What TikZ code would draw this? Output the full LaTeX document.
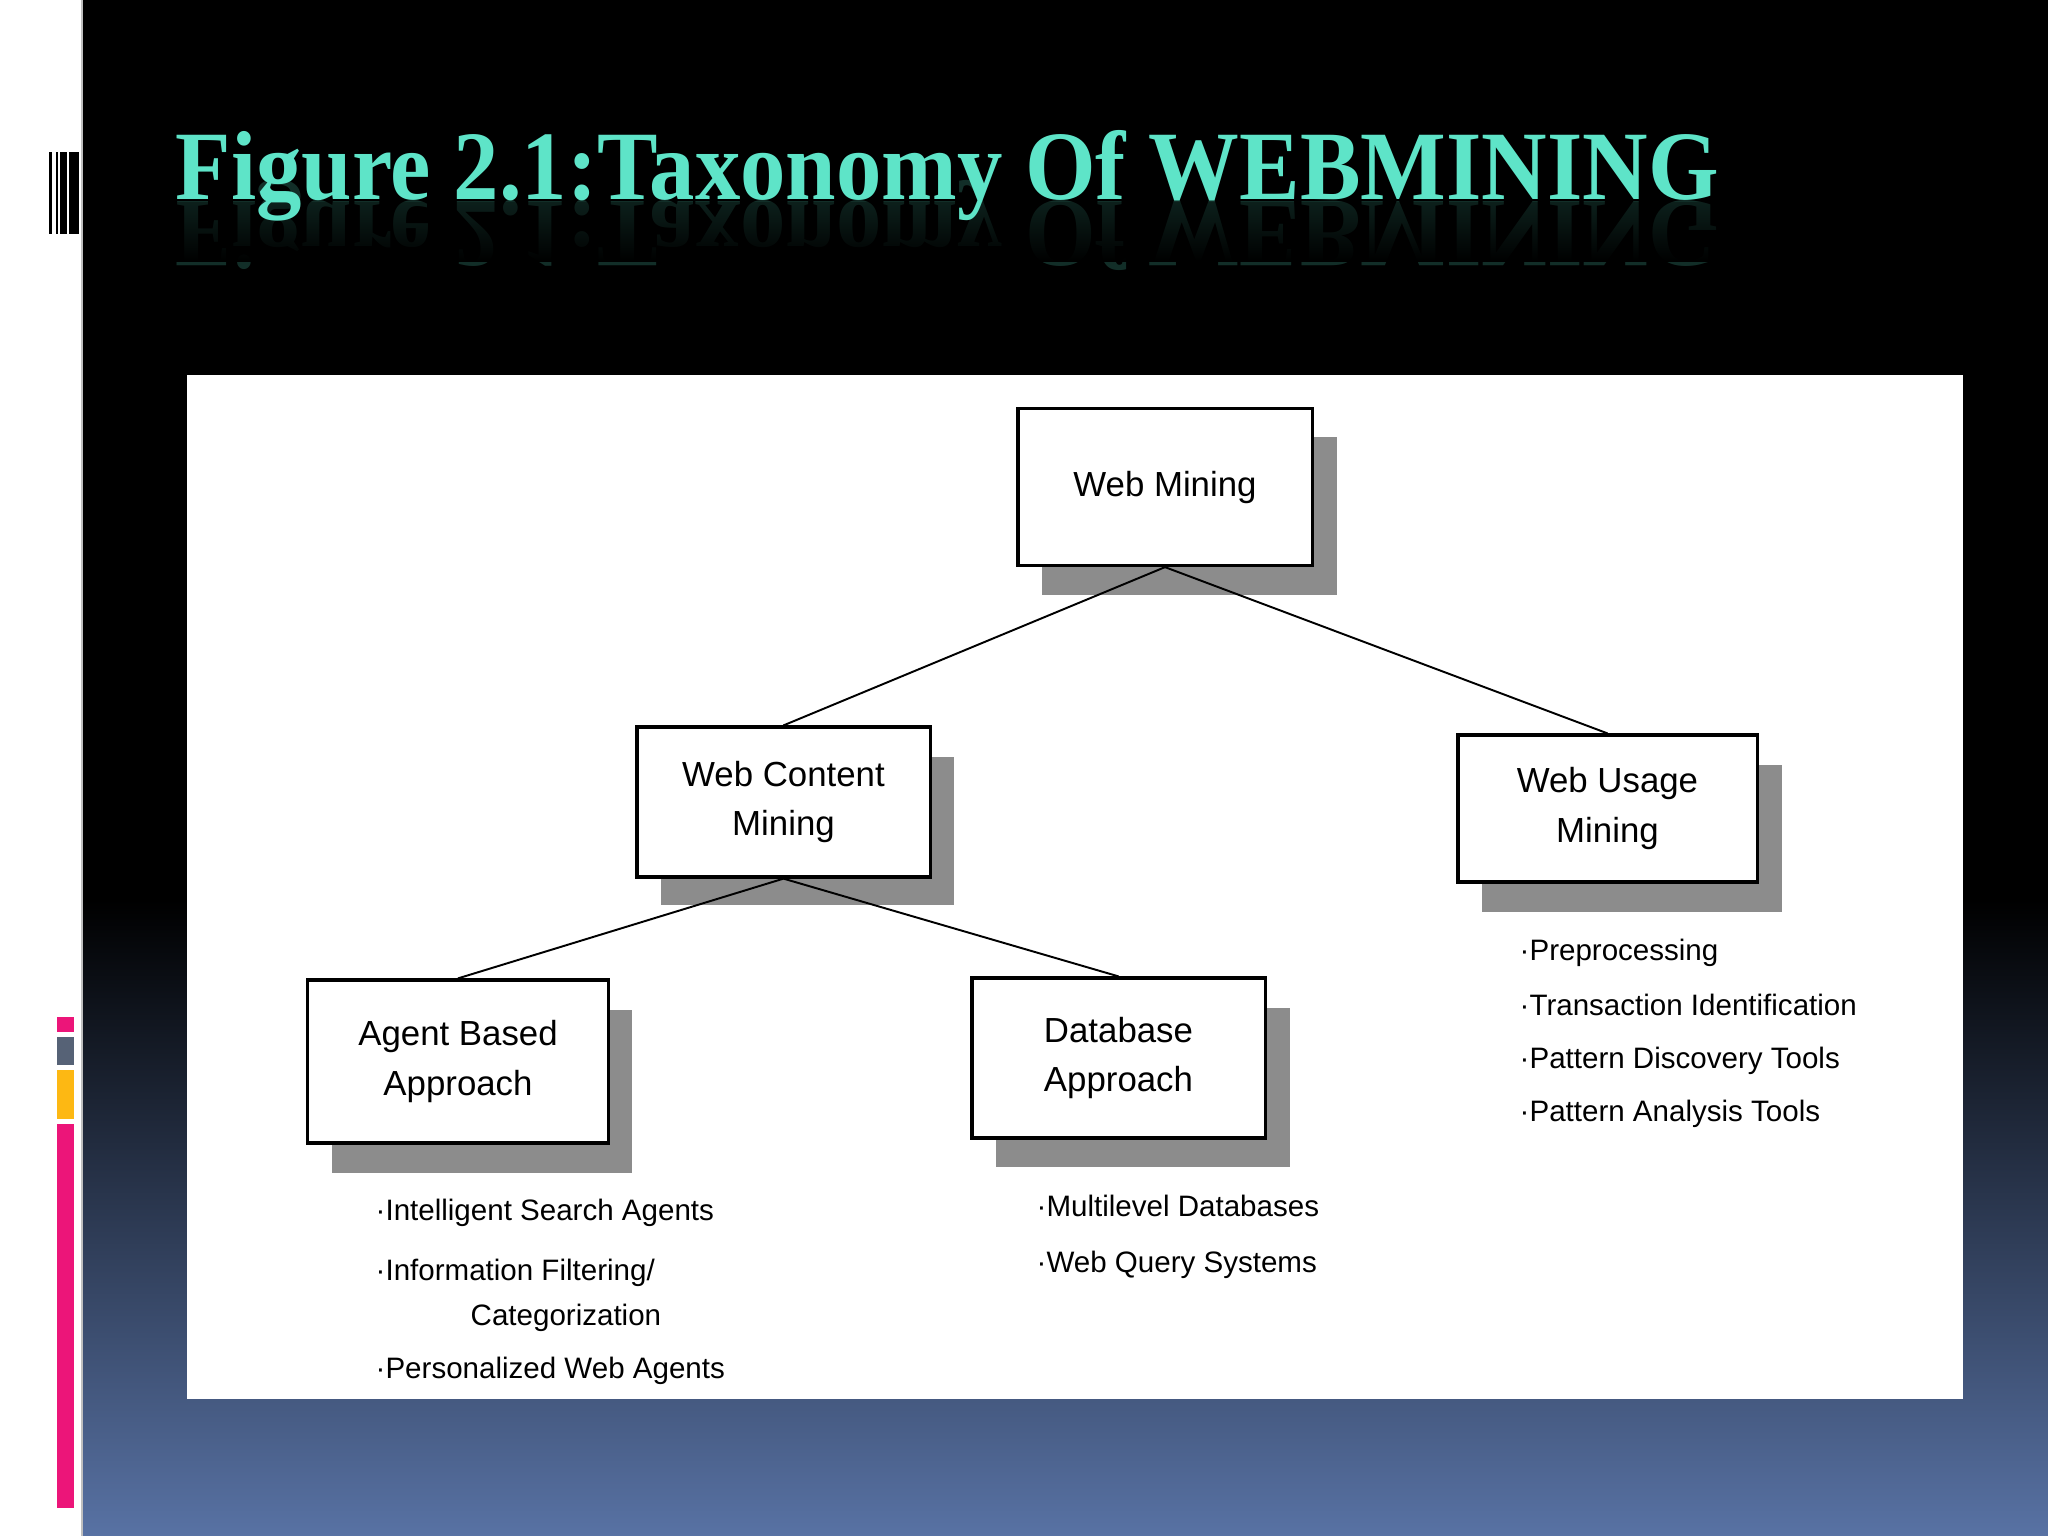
\documentclass[tikz,border=0pt]{standalone}
\usepackage{fontspec}
\setmainfont{Liberation Sans}
\newfontfamily\titlefont{Liberation Serif}
\usetikzlibrary{fadings}
\definecolor{titlecol}{RGB}{94,228,200}
\definecolor{bgbottom}{RGB}{88,114,164}
\definecolor{barpink}{RGB}{236,21,121}
\definecolor{bargray}{RGB}{86,98,118}
\definecolor{barorange}{RGB}{253,184,19}
\definecolor{shadowgray}{RGB}{140,140,140}
\tikzfading[name=fadedown, top color=transparent!70, bottom color=transparent!0]
\tikzset{
  box/.style={draw=black, line width=0.9pt, fill=white, inner sep=0pt,
    align=center, font=\fontsize{9.9pt}{14.2pt}\selectfont},
  link/.style={draw=black, line width=0.55pt},
  item/.style={anchor=base west, inner sep=0pt, font=\fontsize{8.4pt}{10pt}\selectfont},
}
\begin{document}
\begin{tikzpicture}[x=0.01cm, y=-0.01cm]
\useasboundingbox (0,0) rectangle (2048,1536);
% background
\fill[black] (82,0) rectangle (2048,1536);
\shade[top color=black, bottom color=bgbottom] (82,900) rectangle (2048,1536);
\fill[white] (0,0) rectangle (82,1536);
\draw[black!25, line width=0.4pt] (82,0) -- (82,1536);
% barcode
\fill[black] (49,152) rectangle (52,234);
\fill[black] (56,152) rectangle (58,234);
\fill[black] (60,152) rectangle (67,234);
\fill[black] (69,152) rectangle (79,234);
% colour bars
\fill[barpink] (57,1017) rectangle (74,1032);
\fill[bargray] (57,1037) rectangle (74,1065);
\fill[barorange] (57,1070) rectangle (74,1119);
\fill[barpink] (57,1124) rectangle (74,1508);
% title
\node[anchor=base west, inner sep=0pt, text=titlecol!45!black, opacity=0.45, yscale=-1, font=\titlefont\bfseries\fontsize{27.9pt}{30pt}\selectfont] (reflect) at (175,201) {\scalebox{0.925}[1]{Figure 2.1:Taxonomy Of WEBMINING}};
\fill[black, path fading=fadedown] (150,202) rectangle (1760,262);
\node[anchor=base west, inner sep=0pt, text=titlecol, font=\titlefont\bfseries\fontsize{27.9pt}{30pt}\selectfont] (title) at (175,199) {\scalebox{0.925}[1]{Figure 2.1:Taxonomy Of WEBMINING}};
% panel
\fill[white] (187,375) rectangle (1963,1399);
% shadows
\fill[shadowgray] (1042,437) rectangle (1337,595);
\fill[shadowgray] (661,757) rectangle (954,905);
\fill[shadowgray] (1482,765) rectangle (1782,912);
\fill[shadowgray] (332,1010) rectangle (632,1173);
\fill[shadowgray] (996,1008) rectangle (1290,1167);
% boxes
\node[box, minimum width=2.94cm, minimum height=1.57cm] (wm) at (1165,487) {Web Mining};
\node[box, minimum width=2.93cm, minimum height=1.50cm] (wcm) at (783.5,802) {Web Content\\Mining};
\node[box, minimum width=2.99cm, minimum height=1.47cm] (wum) at (1607.5,808.5) {Web Usage\\Mining};
\node[box, minimum width=3.00cm, minimum height=1.63cm] (ab) at (458,1061.5) {Agent Based\\Approach};
\node[box, minimum width=2.93cm, minimum height=1.60cm] (db) at (1118.5,1058) {Database\\Approach};
% connectors
\draw[link] (wm.south) -- (wcm.north);
\draw[link] (wm.south) -- (wum.north);
\draw[link] (wcm.south) -- (ab.north);
\draw[link] (wcm.south) -- (db.north);
% lists
\node[item] (u1) at (1519,960) {·Preprocessing};
\node[item] (u2) at (1519,1015) {·Transaction Identification};
\node[item] (u3) at (1519,1068) {·Pattern Discovery Tools};
\node[item] (u4) at (1519,1121) {·Pattern Analysis Tools};
\node[item] (a1) at (375,1220) {·Intelligent Search Agents};
\node[item] (a2) at (375,1280) {·Information Filtering/};
\node[item] (a3) at (470,1325) {Categorization};
\node[item] (a4) at (375,1378) {·Personalized Web Agents};
\node[item] (d1) at (1036,1216) {·Multilevel Databases};
\node[item] (d2) at (1036,1272) {·Web Query Systems};
\end{tikzpicture}
\end{document}
